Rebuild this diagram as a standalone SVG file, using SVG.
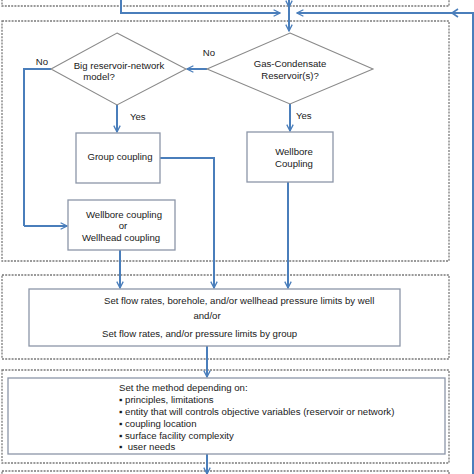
<svg xmlns="http://www.w3.org/2000/svg" width="474" height="474" viewBox="0 0 474 474">
<defs>
<marker id="ah" viewBox="0 0 10 10" refX="9" refY="5" markerWidth="8" markerHeight="8" orient="auto" markerUnits="userSpaceOnUse">
<path d="M1,1 L9,5 L1,9" fill="none" stroke="#4a7ebb" stroke-width="1.6"/>
</marker>
</defs>
<style>
.grp{fill:none;stroke:#7a7a7a;stroke-width:1.3;stroke-dasharray:2 1.2}
.node{fill:#fff;stroke:#8c96a8;stroke-width:1.3}
.dia{fill:#fff;stroke:#8a8a8a;stroke-width:1.1}
.con{fill:none;stroke:#4a7ebb;stroke-width:2}
.arr{marker-end:url(#ah)}
text{font-family:"Liberation Sans",Arial,sans-serif;font-size:9.6px;fill:#1a1a1a}
.c{text-anchor:middle}
</style>
<rect width="474" height="474" fill="#fff"/>
<g id="groups">
<rect class="grp" x="2" y="-20" width="447" height="26"/>
<rect class="grp" x="2" y="21" width="447" height="240"/>
<rect class="grp" x="2" y="275" width="447" height="84"/>
<rect class="grp" x="2" y="370" width="447" height="93"/>
<rect class="grp" x="2" y="471" width="447" height="20"/>
</g>
<g id="connectors">
<polyline class="con arr" points="121,0 121,13 280,13"/>
<polyline class="con arr" points="289,-5 289,7"/>
<polyline class="con arr" points="289,7 289,31"/>
<polyline class="con arr" points="473,474 473,13 297,13"/>
<path d="M458,9 L452,13 L458,17" fill="none" stroke="#4a7ebb" stroke-width="1.6"/>
<polyline class="con arr" points="207,69 187,69"/>
<polyline class="con" points="51,69 24,69 24,226"/>
<polyline class="con arr" points="24,226 67,226"/>
<polyline class="con arr" points="117,105 117,132"/>
<polyline class="con arr" points="290,104 290,131"/>
<polyline class="con arr" points="160,158 214,158 214,288"/>
<polyline class="con arr" points="288,182 288,288"/>
<polyline class="con arr" points="120,250 120,288"/>
<polyline class="con arr" points="207,346 207,377"/>
<polyline class="con arr" points="207,454 207,474"/>
</g>
<g id="gas-condensate">
<polygon class="dia" points="290,33 373,69 290,104 207,69"/>
<text class="c" x="290" y="67">Gas-Condensate</text>
<text class="c" x="290" y="79">Reservoir(s)?</text>
</g>
<g id="big-reservoir">
<polygon class="dia" points="117,33 186,69 117,105 51,69"/>
<text class="c" x="119" y="69">Big reservoir-network</text>
<text class="c" x="99" y="80">model?</text>
</g>
<g id="labels">
<text class="c" x="209" y="56">No</text>
<text class="c" x="42" y="65">No</text>
<text x="130" y="120">Yes</text>
<text x="296" y="119">Yes</text>
</g>
<g id="group-coupling">
<rect class="node" x="76" y="133" width="84" height="50"/>
<text class="c" x="120" y="160">Group coupling</text>
</g>
<g id="wellbore-coupling">
<rect class="node" x="247" y="132" width="86" height="50"/>
<text class="c" x="294" y="155">Wellbore</text>
<text class="c" x="294" y="167">Coupling</text>
</g>
<g id="wellbore-or-wellhead">
<rect class="node" x="68" y="200" width="107" height="50"/>
<text class="c" x="124" y="218">Wellbore coupling</text>
<text class="c" x="123" y="229">or</text>
<text class="c" x="121" y="241">Wellhead coupling</text>
</g>
<g id="set-limits">
<rect class="node" x="29" y="289" width="371" height="57"/>
<text x="104" y="304">Set flow rates, borehole, and/or wellhead pressure limits by well</text>
<text class="c" x="207" y="319">and/or</text>
<text x="102" y="337">Set flow rates, and/or pressure limits by group</text>
</g>
<g id="set-method">
<rect class="node" x="8" y="378" width="437" height="76"/>
<text x="119" y="391">Set the method depending on:</text>
<text x="119" y="403">▪ principles, limitations</text>
<text x="119" y="415">▪ entity that will controls objective variables (reservoir or network)</text>
<text x="119" y="427">▪ coupling location</text>
<text x="119" y="439">▪ surface facility complexity</text>
<text x="119" y="450" xml:space="preserve">▪  user needs</text>
</g>
</svg>
